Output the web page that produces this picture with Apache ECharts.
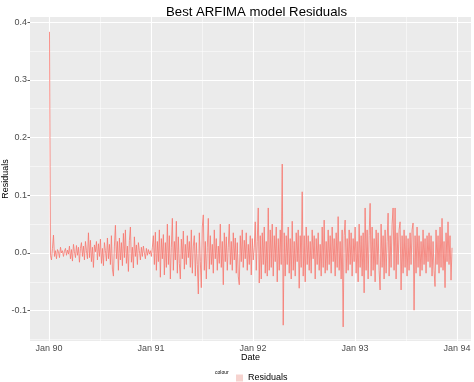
<!DOCTYPE html>
<html><head><meta charset="utf-8">
<script src="https://cdn.jsdelivr.net/npm/echarts@6/dist/echarts.min.js"></script>
<style>html,body{margin:0;padding:0;background:#fff}#c{width:474px;height:382px}</style>
</head><body><div id="c"></div>
<script>
// Residuals (approximate), in time order
const residuals1990 = [
 0.383,-0.004,-0.012,0.008,0.031,-0.006,0.004,-0.010,0.006,0.002,-0.008,0.010,0.000,0.004,-0.006,0.003,0.008,-0.004,0.005,-0.002,
 0.012,-0.010,0.006,-0.014,0.015,0.002,-0.008,0.013,-0.004,0.010,-0.016,0.008,0.018,-0.006,0.012,-0.012,0.020,0.004,-0.010,0.035,
 -0.008,0.022,-0.015,0.010,-0.025,0.014,0.002,0.020,-0.012,0.016,-0.006,0.024,-0.018,0.008,-0.022,0.018,0.004,-0.014,0.026,-0.010,
 0.015,-0.020,0.030,-0.028,-0.040,0.012,0.048,-0.010,0.020,-0.030,0.026,-0.012,0.018,-0.022,0.034,-0.008,0.040,-0.018,0.012,-0.032,
 0.022,0.045,-0.016,0.010,-0.026,0.028,-0.006,0.014,-0.020,0.018,0.004,-0.012,0.010,-0.006,0.012,0.000,-0.010,0.008,-0.004,0.006
];
const residuals1991 = [
 -0.002,0.004,-0.006,0.010,0.030,-0.020,0.036,-0.030,0.020,-0.015,0.040,-0.042,0.025,-0.010,0.032,-0.038,0.018,-0.025,0.050,-0.020,
 0.030,-0.045,0.010,0.060,-0.030,0.020,-0.012,0.055,-0.035,0.028,-0.018,-0.045,0.024,-0.010,0.038,-0.028,0.015,-0.020,0.030,-0.008,
 0.020,-0.025,0.040,-0.035,0.012,0.030,-0.040,0.018,-0.020,-0.071,0.035,-0.015,-0.060,0.045,0.066,-0.030,0.020,-0.045,0.010,0.060,
 -0.028,0.030,-0.020,0.015,-0.035,0.040,-0.010,0.025,-0.030,0.012,-0.018,0.050,-0.025,0.020,-0.055,0.035,-0.015,0.028,-0.030,0.010,
 0.050,-0.020,0.020,-0.030,0.035,-0.012,0.026,-0.035,0.018,-0.040,-0.055,0.030,-0.015,0.040,-0.025,0.022,-0.010,0.035,-0.030,0.015
];
const residuals1992 = [
 -0.020,0.030,-0.038,0.025,-0.012,0.010,0.054,-0.030,0.020,0.078,-0.052,0.030,-0.045,0.035,-0.020,0.045,-0.035,0.020,-0.040,0.078,
 -0.030,0.040,-0.025,0.050,-0.040,0.030,-0.015,0.045,-0.050,0.025,-0.030,0.040,-0.020,0.154,-0.125,0.035,-0.040,0.030,-0.020,0.045,
 -0.035,0.025,-0.045,0.055,-0.030,0.020,-0.040,0.035,-0.015,0.040,-0.061,0.030,-0.025,0.106,-0.040,0.030,-0.050,0.045,-0.020,0.030,
 -0.030,0.020,-0.035,0.040,-0.010,0.030,-0.045,0.025,-0.020,0.035,-0.030,0.015,-0.040,0.045,-0.025,0.057,-0.035,0.020,-0.030,0.040,
 -0.020,0.030,-0.035,0.045,-0.015,0.025,-0.040,0.035,-0.025,0.063,-0.030,0.020,-0.045,0.040,-0.128,0.030,0.057,-0.035,0.025,-0.030
];
const residuals1993 = [
 0.040,-0.020,0.035,-0.040,0.025,-0.015,0.045,-0.035,0.020,-0.050,0.050,-0.025,0.030,-0.040,0.035,-0.069,0.078,-0.030,0.040,-0.045,
 0.030,0.086,-0.040,0.045,-0.030,0.025,-0.050,0.040,-0.020,0.035,-0.030,-0.064,0.050,-0.025,0.030,-0.045,0.040,-0.035,0.020,0.069,
 -0.040,0.030,-0.025,0.050,0.078,-0.030,0.078,-0.045,0.035,-0.020,0.040,0.054,-0.064,0.030,-0.035,0.040,-0.025,0.030,-0.040,0.025,
 -0.030,0.035,-0.020,0.040,0.052,-0.099,0.030,-0.035,0.045,-0.025,0.030,-0.040,0.020,-0.030,0.040,-0.020,0.025,-0.035,0.030,-0.015,
 0.035,-0.025,0.030,-0.040,0.020,-0.030,-0.058,0.040,-0.020,0.030,-0.035,0.045,-0.025,0.060,-0.030,0.020,-0.060,0.035,-0.015,0.054,
 -0.020,0.030,-0.047,0.009
];
// First and last observation dates (fractional years), evenly spaced trading days
const firstObs = 1990.005;
const lastObs = 1993.951;
const xTicks = [1990, 1991, 1992, 1993, 1994];
const xTickLabels = ['Jan 90', 'Jan 91', 'Jan 92', 'Jan 93', 'Jan 94'];
const xMinor = [1990.5, 1991.5, 1992.5, 1993.5];
const yTicks = [-0.1, 0, 0.1, 0.2, 0.3, 0.4];
const yTickLabels = ['-0.1', '0.0', '0.1', '0.2', '0.3', '0.4'];
const yMinor = [-0.15, -0.05, 0.05, 0.15, 0.25, 0.35];

const residuals = [].concat(residuals1990, residuals1991, residuals1992, residuals1993);
const n = residuals.length;
const seriesData = residuals.map((v, i) => [firstObs + (lastObs - firstObs) * i / (n - 1), v]);

const FONT = "'Liberation Sans', Arial, sans-serif";
function lab(ticks, labels, v) {
  for (let i = 0; i < ticks.length; i++) if (Math.abs(ticks[i] - v) < 1e-9) return labels[i];
  return '';
}
const gridLines = [];
xTicks.forEach(v => gridLines.push({ xAxis: v, lineStyle: { width: 1.1 } }));
xMinor.forEach(v => gridLines.push({ xAxis: v, lineStyle: { width: 0.5 } }));
yTicks.forEach(v => gridLines.push({ yAxis: v, lineStyle: { width: 1.1 } }));
yMinor.forEach(v => gridLines.push({ yAxis: v, lineStyle: { width: 0.5 } }));

const chart = echarts.init(document.getElementById('c'), null, { renderer: 'canvas' });
chart.setOption({
  animation: false,
  backgroundColor: '#ffffff',
  textStyle: { fontFamily: FONT },
  title: {
    text: 'Best ARFIMA model Residuals',
    left: 161, top: 1,
    textStyle: { fontFamily: FONT, fontSize: 13.2, fontWeight: 'normal', color: '#000000' }
  },
  grid: { left: 30, right: 3, top: 17, bottom: 41, show: true, backgroundColor: '#EBEBEB', borderWidth: 0, containLabel: false, outerBoundsMode: 'none' },
  xAxis: {
    type: 'value', min: 1989.814, max: 1994.137,
    name: 'Date', nameLocation: 'middle', nameGap: 12, nameMoveOverlap: false,
    nameTextStyle: { fontFamily: FONT, fontSize: 9, color: '#000000' },
    axisLine: { show: false },
    axisTick: { show: true, customValues: xTicks, length: 2.5, lineStyle: { color: '#333333', width: 0.8 } },
    axisLabel: { customValues: xTicks, formatter: v => lab(xTicks, xTickLabels, v), fontFamily: FONT, fontSize: 9, color: '#4D4D4D', margin: 3 },
    splitLine: { show: false }
  },
  yAxis: {
    type: 'value', min: -0.1524, max: 0.4087,
    name: 'Residuals', nameLocation: 'middle', nameGap: 20, nameRotate: 90, nameMoveOverlap: false,
    nameTextStyle: { fontFamily: FONT, fontSize: 9, color: '#000000' },
    axisLine: { show: false },
    axisTick: { show: true, customValues: yTicks, length: 2.5, lineStyle: { color: '#333333', width: 0.8 } },
    axisLabel: { customValues: yTicks, formatter: v => lab(yTicks, yTickLabels, v), fontFamily: FONT, fontSize: 9, color: '#4D4D4D', margin: 3 },
    splitLine: { show: false }
  },
  legend: {
    show: true, left: 231, top: 368.5, itemWidth: 7, itemHeight: 7, icon: 'rect',
    data: [{ name: 'Residuals', itemStyle: { color: '#F6D3CF' } }],
    textStyle: { fontFamily: FONT, fontSize: 9, color: '#000000' }
  },
  graphic: [
    { type: 'text', x: 215, y: 373, style: { text: 'colour', fontFamily: FONT, fontSize: 5, fill: '#000000', textVerticalAlign: 'middle' } }
  ],
  series: [{
    name: 'Residuals', type: 'line', data: seriesData, showSymbol: false, symbol: 'none', z: 3,
    lineStyle: { color: '#F8766D', width: 0.8 },
    itemStyle: { color: '#F8766D' },
    markLine: {
      silent: true, symbol: ['none', 'none'], z: 1, label: { show: false },
      lineStyle: { color: '#FFFFFF', type: 'solid', width: 1 },
      emphasis: { disabled: true },
      data: gridLines
    }
  }]
});
</script>
</body></html>
